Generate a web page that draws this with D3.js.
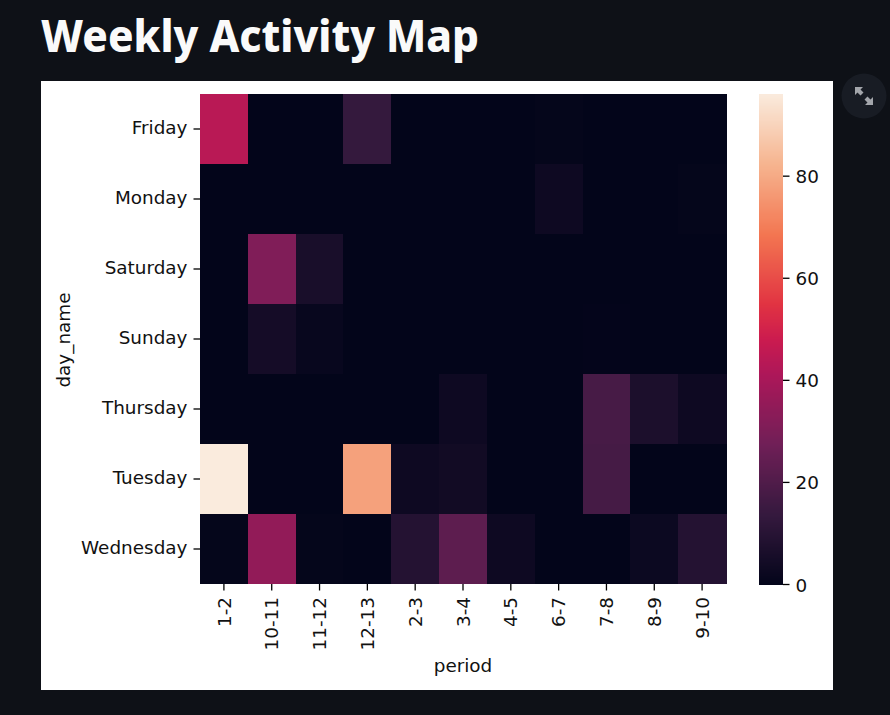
<!DOCTYPE html>
<html>
<head>
<meta charset="utf-8">
<script src="https://cdn.jsdelivr.net/npm/d3@7"></script>
<style>
html,body{margin:0;padding:0;background:#0e1117;overflow:hidden}
svg{display:block}
text{font-family:"DejaVu Sans",sans-serif}
</style>
</head>
<body>
<svg id="c" width="890" height="715"></svg>
<script>
const chartTitle = "Weekly Activity Map";
const days = ["Friday","Monday","Saturday","Sunday","Thursday","Tuesday","Wednesday"];
const periods = ["1-2","10-11","11-12","12-13","2-3","3-4","4-5","6-7","7-8","8-9","9-10"];
const friday    = [44,0,0,13.5,0,0,0,0.5,0,0,0];
const monday    = [0,0,0,0,0,0,0,3,0,0,0.5];
const saturday  = [0,31,6,0,0,0,0,0,0,0,0];
const sunday    = [0,5,1.5,0,0,0,0,0,0.3,0,0];
const thursday  = [0,0,0,0,0,3,0,0,18,7,3];
const tuesday   = [96,0,0,78,3,4,0,0,17.5,0,0];
const wednesday = [0.5,35,0.5,0,9,23,3,0,0,2.5,9];
const rows = [friday,monday,saturday,sunday,thursday,tuesday,wednesday];
const colorPositions = [0,0.143,0.286,0.4286,0.5,0.571,0.714,0.857,1];
const colorStops = ["#03051a","#35193e","#701f57","#ad1759","#cb1b4f","#e13342","#f37651","#f6b48f","#faebdd"];
const barTicks = [0,20,40,60,80];
const vMax = 96;

const svg = d3.select("#c");
const M = {l:200,r:726,t:94,b:584};

svg.append("text").attr("x",41).attr("y",52)
  .style("font-family","'Noto Sans',sans-serif").style("font-weight",800)
  .style("font-size","44px").attr("fill","#fafafa")
  .attr("textLength",438).attr("lengthAdjust","spacingAndGlyphs").text(chartTitle);

svg.append("rect").attr("x",41).attr("y",81).attr("width",792).attr("height",609).attr("fill","#fff");

const btn = svg.append("g").attr("transform","translate(864,96)");
btn.append("circle").attr("r",22.5).attr("fill","#181c24");
btn.append("path").attr("fill","#a3a6ab")
  .attr("d","M-9,-9H-1L-3.5,-6.5L-0.5,-3.5L-3.5,-0.5L-6.5,-3.5L-9,-1Z M9,9H1L3.5,6.5L0.5,3.5L3.5,0.5L6.5,3.5L9,1Z");

const x = d3.scaleBand().domain(periods).range([M.l,M.r]);
const y = d3.scaleBand().domain(days).range([M.t,M.b]);
const color = d3.scaleLinear()
  .domain(colorPositions.map(p=>p*vMax))
  .range(colorStops).interpolate(d3.interpolateRgb);

const cells = days.flatMap((d,i)=>periods.map((p,j)=>({d,p,v:rows[i][j]})));
svg.append("g").attr("shape-rendering","crispEdges").selectAll("rect").data(cells).join("rect")
  .attr("x",c=>x(c.p)).attr("y",c=>y(c.d))
  .attr("width",x.bandwidth()+0.5).attr("height",y.bandwidth())
  .attr("fill",c=>color(c.v));

function styleAxis(g){
  g.select(".domain").remove();
  g.selectAll(".tick line").attr("stroke","#000").attr("stroke-width",1.3);
  g.selectAll("text").attr("fill","#111").style("font-size","18.4px").style("font-family","'DejaVu Sans',sans-serif");
}
const gy = svg.append("g").attr("transform",`translate(${M.l},0)`)
  .call(d3.axisLeft(y).tickSize(6.5).tickPadding(6)).call(styleAxis);
gy.selectAll("text").attr("dy","0.29em");
const gx = svg.append("g").attr("transform",`translate(0,${M.b})`)
  .call(d3.axisBottom(x).tickSize(6.5).tickPadding(0)).call(styleAxis);
gx.selectAll("text")
  .attr("transform","rotate(-90)")
  .attr("text-anchor","end").attr("dy","0.36em").attr("x",-13).attr("y",0);

svg.append("text").attr("x",463).attr("y",672).attr("text-anchor","middle")
  .style("font-size","18.4px").attr("fill","#111").text("period");
svg.append("text").attr("transform","translate(70,340) rotate(-90)").attr("text-anchor","middle")
  .style("font-size","18.4px").attr("fill","#111").text("day_name");

const bar = d3.scaleLinear().domain([0,vMax]).range([M.b,M.t]);
const barSteps = d3.range(0,vMax,0.2);
svg.append("g").attr("shape-rendering","crispEdges").selectAll("rect").data(barSteps).join("rect")
  .attr("x",759).attr("width",24)
  .attr("y",v=>bar(v+0.2)).attr("height",v=>bar(v)-bar(v+0.2)+1)
  .attr("fill",v=>color(v));
const gb = svg.append("g").attr("transform","translate(783,0)")
  .call(d3.axisRight(bar).tickValues(barTicks).tickSize(6.5).tickPadding(6).tickFormat(d3.format("d")))
  .call(styleAxis);
gb.selectAll("text").attr("dy","0.38em");
</script>
</body>
</html>
